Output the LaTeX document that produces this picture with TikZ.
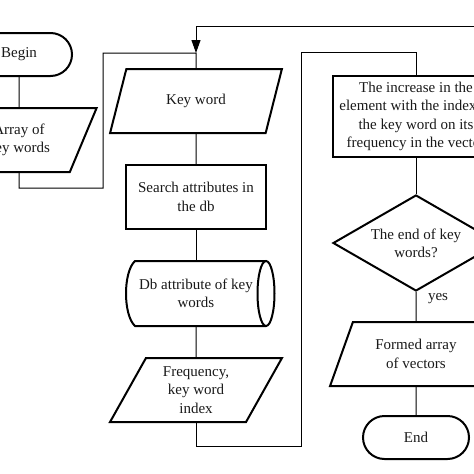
\documentclass[tikz,border=0pt]{standalone}
\usepackage{fontspec}
\setmainfont{Liberation Serif}
\usetikzlibrary{shapes.geometric,shapes.misc,arrows.meta}
\begin{document}
\begin{tikzpicture}[x=1pt,y=-1pt,
  bord/.style={draw=black, line width=2pt},
  txt/.style={font=\fontsize{15}{18.3}\selectfont, align=center, text=black!90, inner sep=0pt},
  term/.style={bord, txt, rounded rectangle, minimum width=106pt, minimum height=43pt},
  io/.style={bord, txt, trapezium, trapezium left angle=63, trapezium right angle=117, trapezium stretches=true, minimum width=172pt, minimum height=64pt},
  proc/.style={bord, txt, rectangle, minimum width=140pt, minimum height=64pt},
  conn/.style={draw=black, line width=1pt},
  tip/.style={-{Triangle[length=13pt,width=9pt]}}
]
\useasboundingbox (0,0) rectangle (474,474);
\clip (0,0) rectangle (474,474);

% nodes
\node[term] (begin) at (19,54.5) {Begin};
\node[io, minimum width=156pt] (arr) at (19,140) {Array of\\key words};
\node[io] (kw) at (196,101) {Key word};
\node[proc] (search) at (196,197) {Search attributes in\\the db};
\node[txt, minimum width=140pt, minimum height=65pt] (db) at (196,293.5) {Db attribute of key\\words};
\draw[bord] (266,293.5) ellipse [x radius=8.5pt, y radius=32.5pt];
\draw[bord] (266,261) -- (135,261) .. controls (123,272) and (123,315) .. (135,326) -- (266,326);
\node[io] (freq) at (196,390) {Frequency,\\key word\\index};
\node[proc, minimum width=166pt, minimum height=81pt] (inc) at (416,116.5) {The increase in the\\element with the index of\\the key word on its\\frequency in the vector};
\node[bord, txt, diamond, aspect=1.73, minimum width=166pt, minimum height=96pt] (dec) at (416,243) {The end of key\\words?};
\node[io] (formed) at (416,354) {Formed array\\of vectors};
\node[term] (endn) at (416,437.5) {End};
\node[txt] (yes) at (438,299) {yes};

% connector points
\coordinate (j) at (196,53);
\coordinate (a1) at (103,188);
\coordinate (loopR) at (480,26);
\coordinate (f1) at (301,446);
\coordinate (f2) at (416,52);

% connectors
\draw[conn] (begin.south) -- (arr.north);
\draw[conn] (arr.south) |- (a1) |- (j) -- (kw.north);
\draw[conn, tip] (loopR) -| (j);
\draw[conn] (kw.south) -- (search.north);
\draw[conn] (search.south) -- (db.north);
\draw[conn] (db.south) -- (freq.north);
\draw[conn] (freq.south) |- (f1) |- (f2) -- (inc.north);
\draw[conn] (inc.south) -- (dec.north);
\draw[conn] (dec.south) -- (formed.north);
\draw[conn] (formed.south) -- (endn.north);
\end{tikzpicture}
\end{document}
